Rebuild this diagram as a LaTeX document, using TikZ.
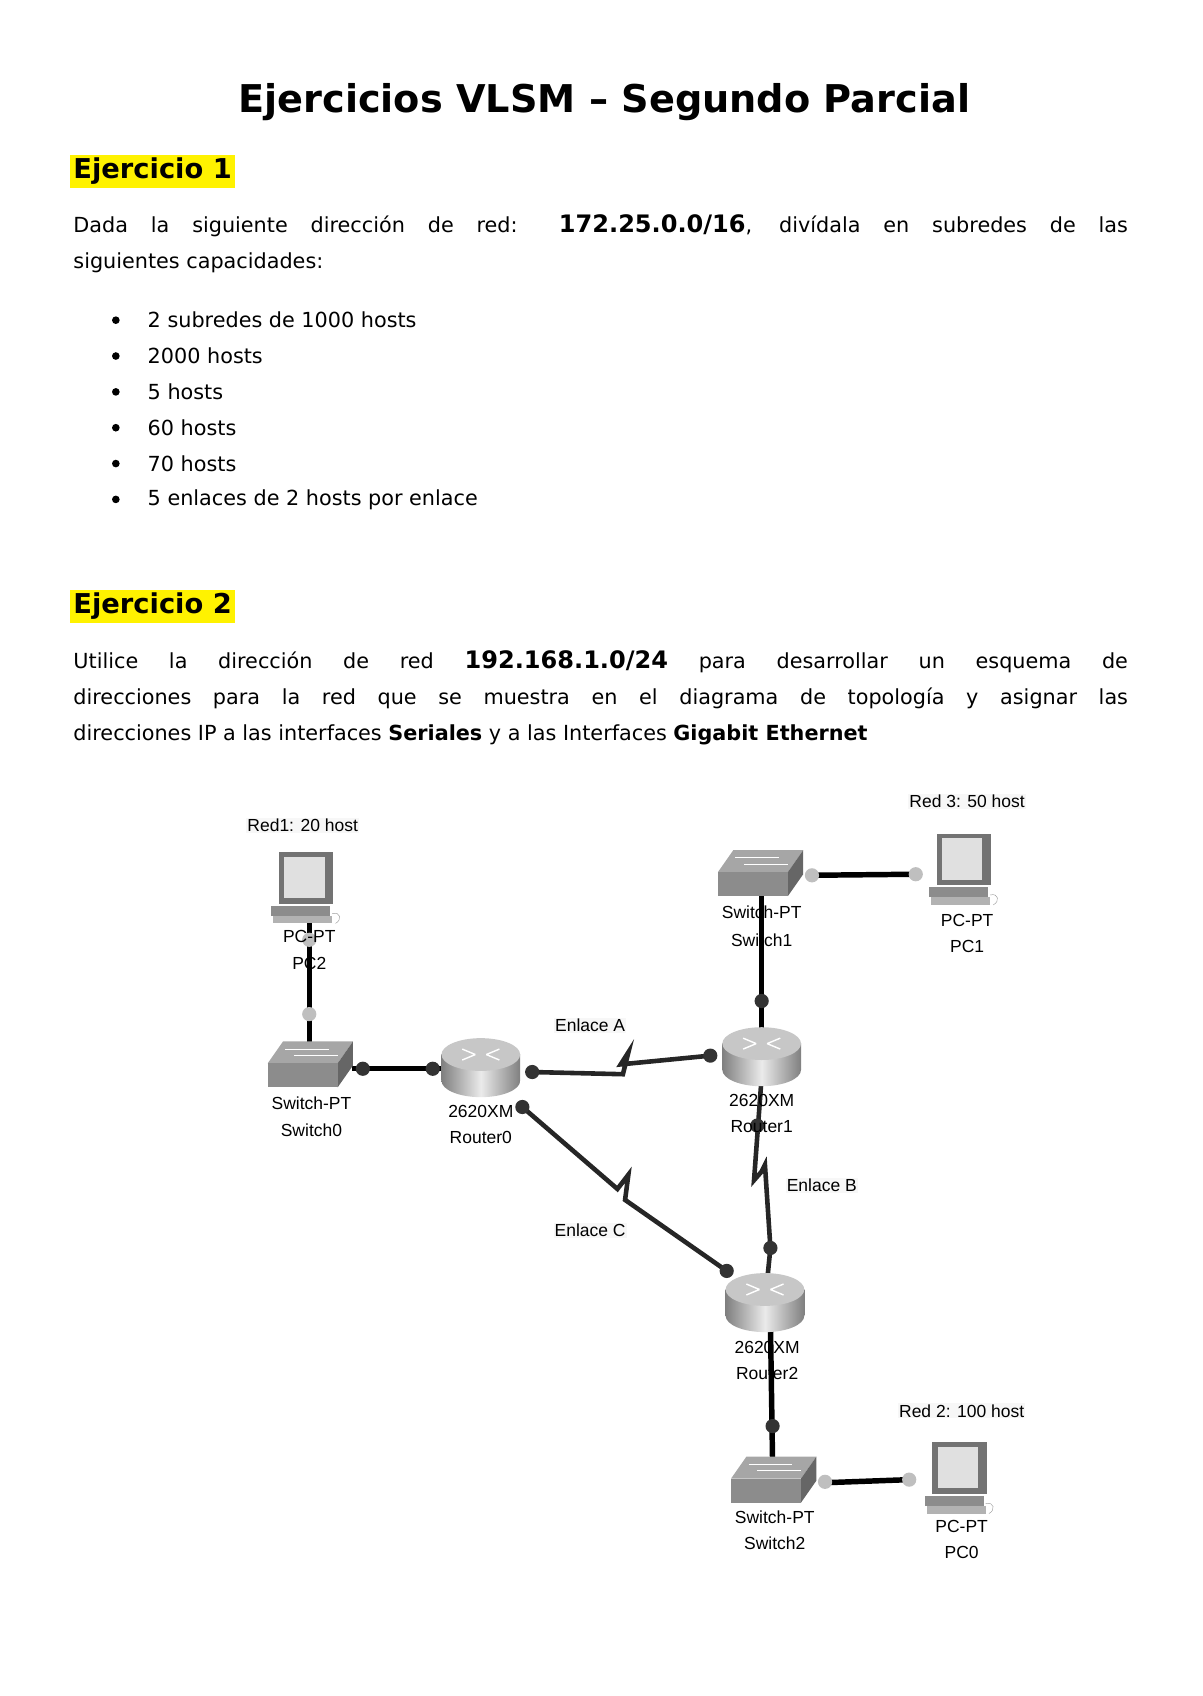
\documentclass[tikz,border=0pt]{standalone}
\usepackage{fontspec}
\setmainfont{DejaVu Sans}
\newfontfamily\lblfont{Liberation Sans}
\begin{document}
\begin{tikzpicture}[x=1pt,y=-1pt,
  body/.style={anchor=west,inner sep=0pt,font=\fontsize{19}{33}\selectfont},
  lbl/.style={inner sep=1pt,font=\lblfont\fontsize{16}{18}\selectfont},
  eth/.style={line width=5pt,black},
  ser/.style={line width=4.2pt,black!85},
  ddot/.style={circle,fill=black!80,inner sep=0pt,minimum size=13pt},
  ldot/.style={circle,fill=black!25,inner sep=0pt,minimum size=13pt}]
\useasboundingbox (0,0) rectangle (1100,1552);
% title and text
\node[font=\bfseries\fontsize{35}{40}\selectfont] (title) at (553,93) {Ejercicios VLSM -- Segundo Parcial};
\node[body,fill=yellow,inner sep=3pt,font=\bfseries\fontsize{25}{30}\selectfont] (e1) at (64,157) {Ejercicio 1};
\node[body,text width=965pt,align=justify,anchor=north west] (p1) at (67,196)
 {Dada la siguiente dirección de red: \textbf{\fontsize{22}{33}\selectfont 172.25.0.0/16}, divídala en subredes de las\linebreak siguientes capacidades:};
\foreach \t [count=\i] in {2 subredes de 1000 hosts,2000 hosts,5 hosts,60 hosts,70 hosts,5 enlaces de 2 hosts por enlace}{
  \node[body] (b\i) at (135,{293+32.8*(\i-1)}) {\t};
  \fill (106,{293+32.8*(\i-1)}) circle (3.5pt);
}
\node[body,fill=yellow,inner sep=3pt,font=\bfseries\fontsize{25}{30}\selectfont] (e2) at (64,555) {Ejercicio 2};
\node[body,text width=965pt,align=justify,anchor=north west] (p2) at (67,595)
 {Utilice la dirección de red \textbf{\fontsize{22}{33}\selectfont 192.168.1.0/24} para desarrollar un esquema de\linebreak direcciones para la red que se muestra en el diagrama de topología y asignar las\linebreak direcciones IP a las interfaces \textbf{Seriales} y a las Interfaces \textbf{Gigabit Ethernet}\hfill\null};
% coordinates
\coordinate (pc2) at (280,812);
\coordinate (sw0) at (283,975);
\coordinate (r0) at (440,975);
\coordinate (r1) at (697,965);
\coordinate (sw1) at (695,800);
\coordinate (pc1) at (882,795);
\coordinate (r2) at (700,1190);
\coordinate (sw2) at (707,1355);
\coordinate (pc0) at (878,1352);
% links
\draw[eth] (283,835) -- (283,960);
\draw[eth] (322,978) -- (405,978);
\draw[eth] (697,815) -- (697,945);
\draw[eth] (738,801) -- (838,800);
\draw[eth] (705,1210) -- (707,1340);
\draw[eth] (750,1357) -- (832,1354);
\draw[ser] (487,981) -- (570,983) -- (575,963) -- (568,974) -- (650,966);
\draw[ser] (478,1013) -- (565,1088) -- (575,1075) -- (572,1098) -- (665,1163);
\draw[ser] (697,985) -- (690,1080) -- (697,1072) -- (700,1066) -- (705,1142) -- (702,1172);
% switches
\foreach \s in {sw0,sw1,sw2}{
  \begin{scope}[shift={(\s)}]
   \fill[black!35] (-38,-2) -- (-24,-22) -- (40,-22) -- (26,-2) -- cycle;
   \fill[black!60] (26,-2) -- (40,-22) -- (40,0) -- (26,20) -- cycle;
   \fill[black!45] (-38,-2) rectangle (26,20);
   \draw[white,line width=0.9pt] (-22,-15) -- (18,-15) (-14,-9) -- (26,-9);
  \end{scope}}
% routers
\foreach \r in {r0,r1,r2}{
  \begin{scope}[shift={(\r)}]
   \shade[left color=black!50,right color=black!50,middle color=black!8] (-36,-10) rectangle (36,14);
   \shade[left color=black!50,right color=black!50,middle color=black!8] (0,14) ellipse (36pt and 15pt);
   \fill[black!22] (0,-10) ellipse (36pt and 15pt);
   \draw[white,line width=1.3pt] (-17,-15) -- (-5,-10) (17,-15) -- (5,-10) (-17,-5) -- (-5,-10) (17,-5) -- (5,-10);
  \end{scope}}
% PCs
\foreach \p in {pc2,pc1,pc0}{
  \begin{scope}[shift={(\p)}]
   \fill[black!55] (-25,-32) rectangle (25,15);
   \fill[black!12] (-20,-28) rectangle (17,10);
   \fill[black!45] (-32,17) rectangle (22,26);
   \fill[black!30] (-30,26) rectangle (24,33);
   \draw[black!40] (24,24) .. controls (32,22) and (33,30) .. (27,33);
  \end{scope}}
% dots
\node[ldot] (d1) at (283,860) {}; \node[ldot] (d2) at (283,928) {};
\node[ddot] (d3) at (332,978) {}; \node[ddot] (d4) at (396,978) {};
\node[ddot] (d5) at (487,981) {}; \node[ddot] (d6) at (650,966) {};
\node[ddot] (d7) at (697,916) {}; \node[ldot] (d8) at (743,801) {};
\node[ldot] (d9) at (838,800) {}; \node[ddot] (d10) at (478,1013) {};
\node[ddot] (d11) at (665,1163) {}; \node[ddot] (d12) at (705,1142) {};
\node[ddot] (d13) at (693,1030) {}; \node[ddot] (d14) at (707,1305) {};
\node[ldot] (d15) at (755,1356) {}; \node[ldot] (d16) at (832,1354) {};
% labels
\node[lbl,fill=black!3] (l1) at (277,755) {Red1: 20 host};
\node[lbl] (l2) at (283,857) {PC-PT};
\node[lbl] (l3) at (283,882) {PC2};
\node[lbl] (l4) at (285,1010) {Switch-PT};
\node[lbl] (l5) at (285,1034) {Switch0};
\node[lbl] (l6) at (440,1017) {2620XM};
\node[lbl] (l7) at (440,1041) {Router0};
\node[lbl] (l8) at (697,1007) {2620XM};
\node[lbl] (l9) at (697,1031) {Router1};
\node[lbl] (l10) at (697,835) {Switch-PT};
\node[lbl] (l11) at (697,860) {Switch1};
\node[lbl] (l12) at (885,842) {PC-PT};
\node[lbl] (l13) at (885,866) {PC1};
\node[lbl,fill=black!3] (l14) at (885,733) {Red 3: 50 host};
\node[lbl] (l15) at (702,1233) {2620XM};
\node[lbl] (l16) at (702,1257) {Router2};
\node[lbl] (l17) at (709,1388) {Switch-PT};
\node[lbl] (l18) at (709,1412) {Switch2};
\node[lbl] (l19) at (880,1397) {PC-PT};
\node[lbl] (l20) at (880,1421) {PC0};
\node[lbl,fill=black!3] (l21) at (880,1291) {Red 2: 100 host};
\node[lbl,fill=black!3] (l22) at (540,938) {Enlace A};
\node[lbl,fill=black!3] (l23) at (752,1085) {Enlace B};
\node[lbl,fill=black!3] (l24) at (540,1126) {Enlace C};
\end{tikzpicture}
\end{document}
